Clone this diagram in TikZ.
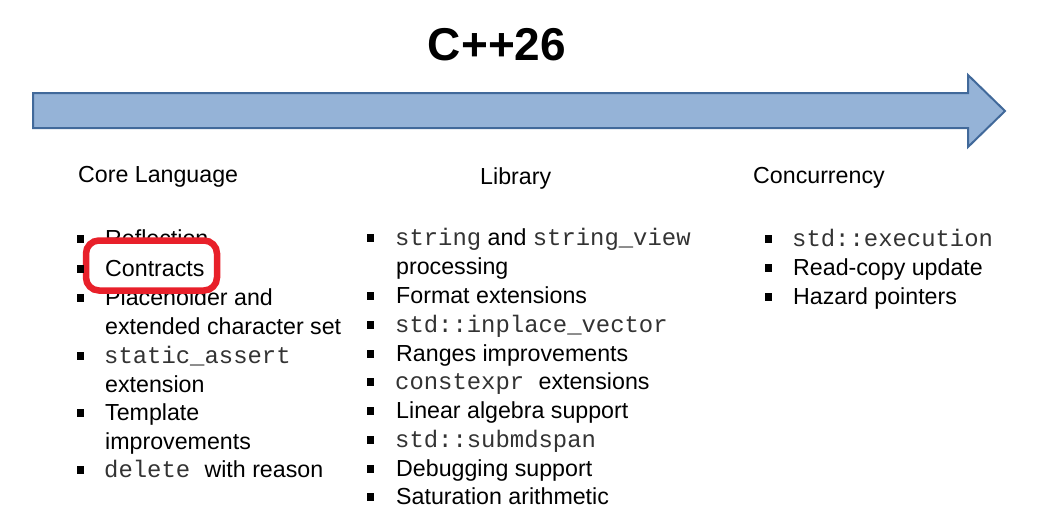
\documentclass[tikz,border=0pt]{standalone}
\usepackage{fontspec}
\setmainfont{Liberation Sans}
\setmonofont{Liberation Mono}
\definecolor{arrowfill}{HTML}{95B3D7}
\definecolor{arrowline}{HTML}{41699A}
\definecolor{mark}{HTML}{E8202A}
\newcommand\mycode[1]{{\fontsize{23.9}{29}\selectfont\ttfamily\color{black!80}#1}}
\begin{document}
\begin{tikzpicture}[x=1pt,y=-1pt,
  txt/.style={anchor=base west, inner sep=0pt, font=\fontsize{23.2}{29}\selectfont},
  bul/.style={fill=black, minimum width=7.5pt, minimum height=8pt, inner sep=0pt},
  boxed/.style={draw=mark, line width=6.5pt, fill=white, rounded corners=13pt}]
\useasboundingbox (0,0) rectangle (1054,517);
% timeline arrow
\draw[fill=arrowfill, draw=arrowline, line width=2pt, line join=miter]
  (33,93) -- (968,93) -- (968,75) -- (1005,111) -- (968,147) -- (968,128) -- (33,128) -- cycle;
\node[anchor=base, inner sep=0pt, font=\fontsize{46}{50}\selectfont\bfseries] (title) at (497,60) {C++26};
% headings
\node[txt] (hcore) at (78,182) {Core Language};
\node[txt] (hlib) at (480,184) {Library};
\node[txt] (hconc) at (753,183) {Concurrency};
% core language
\node[txt] (c1) at (105,246) {Reflection};
\node[txt] (c3) at (105,305) {Placeholder and};
\node[txt] (c3b) at (105,334) {extended character set};
\node[boxed, minimum width=131pt, minimum height=50pt] (cbox) at (151.5,265.5) {};
\node[txt] (c2) at (105,276) {Contracts};
\node[txt] (c4) at (104,363) {\mycode{static\_assert}};
\node[txt] (c4b) at (105,392) {extension};
\node[txt] (c5) at (105,420) {Template};
\node[txt] (c5b) at (105,449) {improvements};
\node[txt] (c6) at (104,477) {\mycode{delete\ }with reason};
\foreach \n/\y in {b1/239,b2/269,b3/298,b4/356,b5/413,b6/470}
  \node[bul] (core\n) at (80.5,\y) {};
% library
\node[txt] (l1) at (395,245) {\mycode{string} and \mycode{string\_view}};
\node[txt] (l1b) at (396,274) {processing};
\node[txt] (l2) at (396,303) {Format extensions};
\node[txt] (l3) at (395,332) {\mycode{std::inplace\_vector}};
\node[txt] (l4) at (396,361) {Ranges improvements};
\node[txt] (l5) at (395,389) {\mycode{constexpr\ }extensions};
\node[txt] (l6) at (396,418) {Linear algebra support};
\node[txt] (l7) at (395,447) {\mycode{std::submdspan}};
\node[txt] (l8) at (396,476) {Debugging support};
\node[txt] (l9) at (396,504) {Saturation arithmetic};
\foreach \n/\y in {b1/238,b2/296,b3/325,b4/354,b5/382,b6/411,b7/440,b8/469,b9/497}
  \node[bul] (lib\n) at (370.5,\y) {};
% concurrency
\node[txt] (k1) at (792,246) {\mycode{std::execution}};
\node[txt] (k2) at (793,275) {Read-copy update};
\node[txt] (k3) at (793,304) {Hazard pointers};
\foreach \n/\y in {b1/239,b2/268,b3/297}
  \node[bul] (conc\n) at (768.5,\y) {};
\end{tikzpicture}
\end{document}
